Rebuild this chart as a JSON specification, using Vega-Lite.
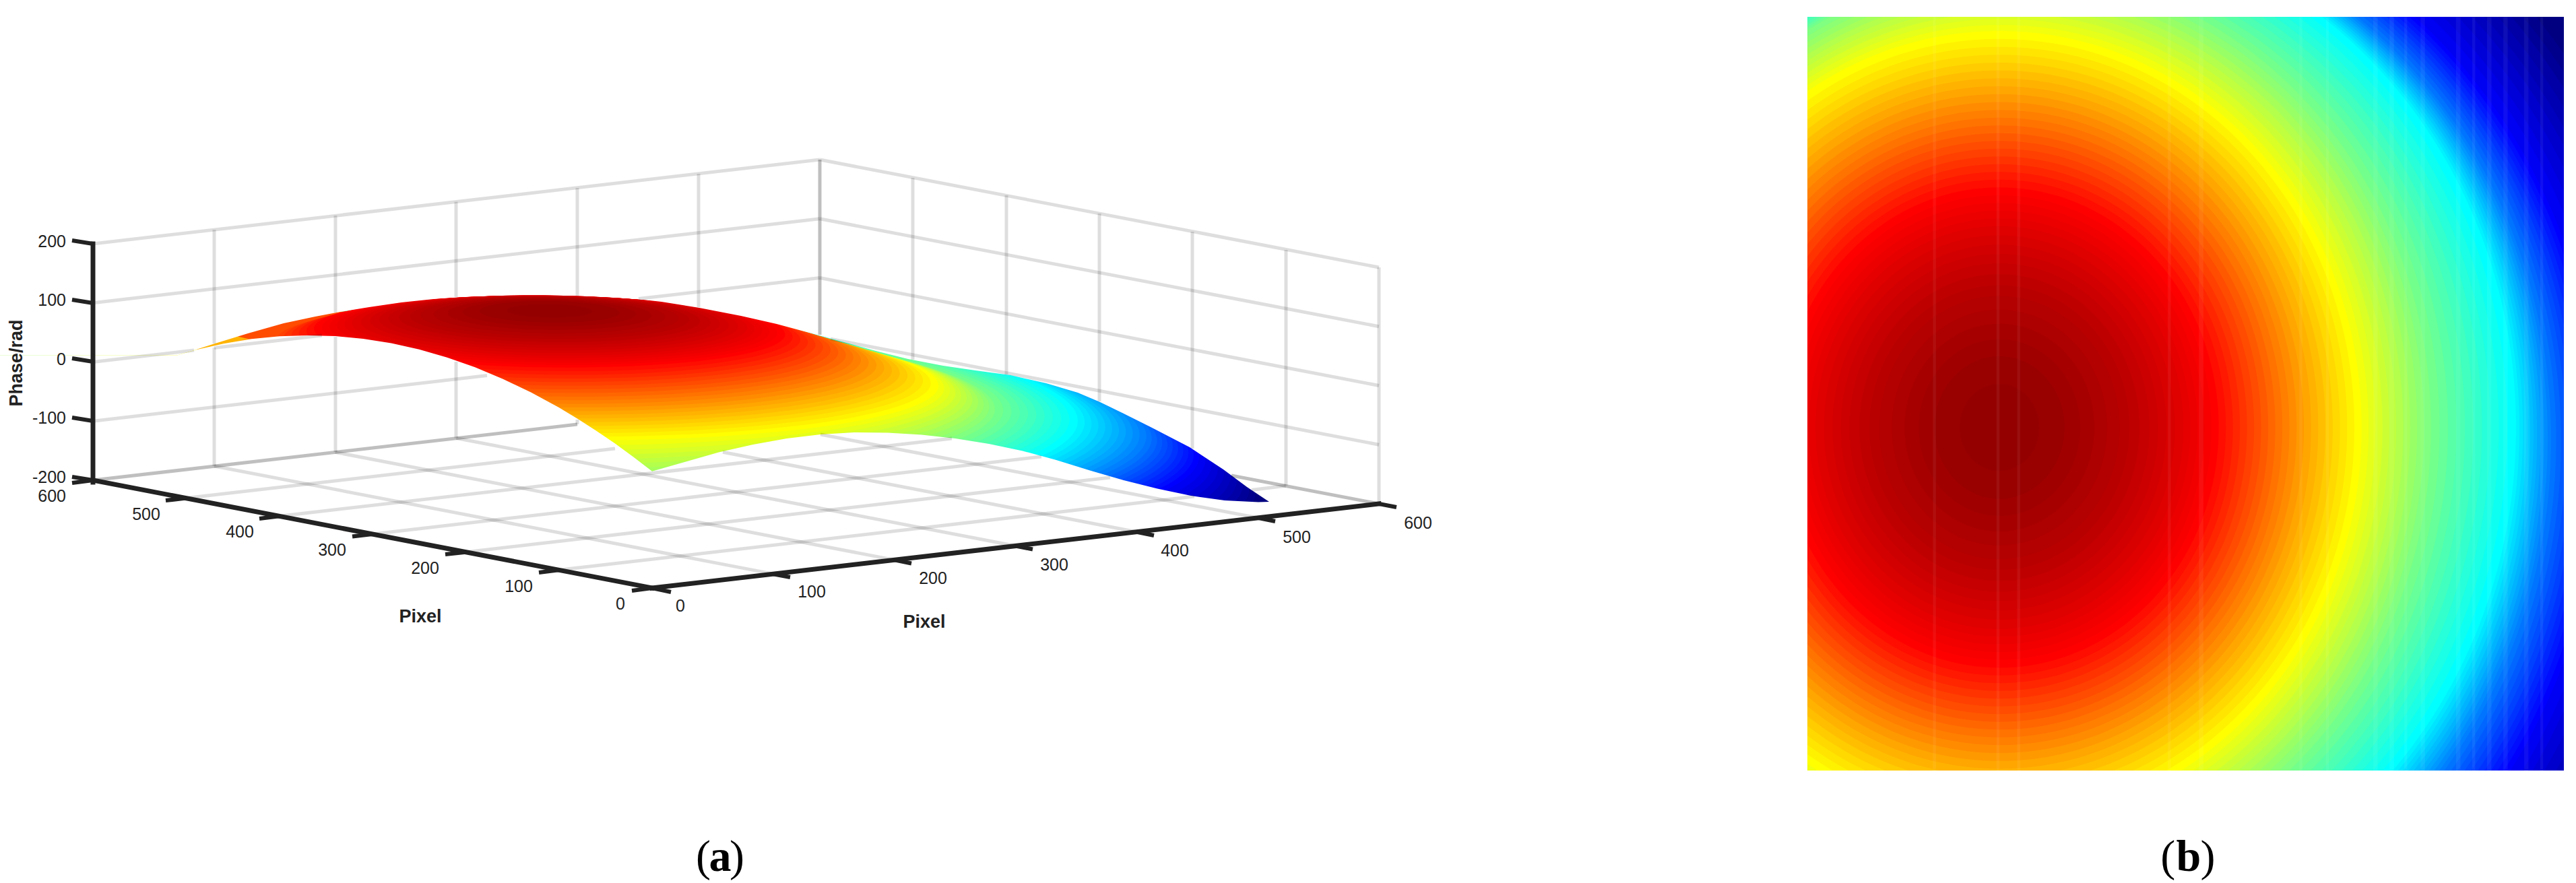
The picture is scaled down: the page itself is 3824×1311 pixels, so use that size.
{"$schema":"https://vega.github.io/schema/vega-lite/v6.json","background":"white","padding":{"top":25,"left":0,"right":0,"bottom":0},"autosize":{"type":"pad"},"spacing":283,"config":{"view":{"stroke":null}},
"datasets":{
"rings":[
{"radius":470,"sr":500,"phase":-175,"hx":187.5,"hy":295,"u":-202.8,"v":148.5},
{"radius":425,"sr":500,"phase":-170.8,"hx":187.5,"hy":295,"u":-232.1,"v":154.5},
{"radius":418,"sr":500,"phase":-166.6,"hx":187.5,"hy":295,"u":-241.4,"v":160.5},
{"radius":412,"sr":500,"phase":-162.4,"hx":187.5,"hy":295,"u":-250.7,"v":166.5},
{"radius":405,"sr":500,"phase":-158.3,"hx":187.5,"hy":295,"u":-260,"v":172.5},
{"radius":398,"sr":500,"phase":-154.1,"hx":187.5,"hy":295,"u":-269.3,"v":178.5},
{"radius":392,"sr":500,"phase":-149.9,"hx":187.5,"hy":295,"u":-278.6,"v":184.5},
{"radius":385,"sr":500,"phase":-145.7,"hx":187.5,"hy":295,"u":-287.9,"v":190.5},
{"radius":378,"sr":500,"phase":-141.5,"hx":187.5,"hy":295,"u":-297.2,"v":196.5},
{"radius":372,"sr":500,"phase":-137.3,"hx":187.5,"hy":295,"u":-306.5,"v":202.5},
{"radius":365,"sr":500,"phase":-133.1,"hx":187.5,"hy":295,"u":-315.8,"v":208.5},
{"radius":362.5,"sr":500,"phase":-128.9,"hx":186.5,"hy":294.2,"u":-323.6,"v":211.5},
{"radius":360,"sr":500,"phase":-124.8,"hx":185.6,"hy":293.4,"u":-331.4,"v":214.5},
{"radius":357.5,"sr":500,"phase":-120.6,"hx":184.6,"hy":292.6,"u":-339.2,"v":217.5},
{"radius":355,"sr":500,"phase":-116.4,"hx":183.7,"hy":291.8,"u":-347,"v":220.5},
{"radius":352.5,"sr":500,"phase":-112.2,"hx":182.7,"hy":291,"u":-354.8,"v":223.5},
{"radius":350,"sr":500,"phase":-108,"hx":181.7,"hy":290.2,"u":-362.6,"v":226.5},
{"radius":347.5,"sr":500,"phase":-103.8,"hx":180.8,"hy":289.4,"u":-370.4,"v":229.5},
{"radius":345,"sr":500,"phase":-99.6,"hx":179.8,"hy":288.6,"u":-378.2,"v":232.5},
{"radius":342.5,"sr":500,"phase":-95.4,"hx":178.9,"hy":287.8,"u":-386,"v":235.5},
{"radius":340,"sr":500,"phase":-91.3,"hx":177.9,"hy":287,"u":-393.8,"v":238.5},
{"radius":338.5,"sr":500,"phase":-87.1,"hx":177,"hy":286.2,"u":-404,"v":240.8},
{"radius":337,"sr":500,"phase":-82.9,"hx":176,"hy":285.4,"u":-414.2,"v":243.1},
{"radius":335.5,"sr":500,"phase":-78.7,"hx":175,"hy":284.6,"u":-424.4,"v":245.4},
{"radius":334,"sr":500,"phase":-74.5,"hx":174.1,"hy":283.8,"u":-434.6,"v":247.7},
{"radius":332.5,"sr":500,"phase":-70.3,"hx":173.1,"hy":283,"u":-444.8,"v":250},
{"radius":331,"sr":500,"phase":-66.1,"hx":172.2,"hy":282.2,"u":-455,"v":252.3},
{"radius":329.5,"sr":500,"phase":-61.9,"hx":171.2,"hy":281.4,"u":-465.2,"v":254.6},
{"radius":328,"sr":500,"phase":-57.8,"hx":170.2,"hy":280.6,"u":-475.4,"v":256.9},
{"radius":326.5,"sr":500,"phase":-53.6,"hx":169.3,"hy":279.8,"u":-485.6,"v":259.2},
{"radius":325,"sr":500,"phase":-49.4,"hx":168.4,"hy":279,"u":-495.8,"v":261.5},
{"radius":322,"sr":488,"phase":-45.2,"hx":165.5,"hy":279,"u":-481,"v":263},
{"radius":319,"sr":476,"phase":-41,"hx":162.6,"hy":279,"u":-466.2,"v":264.4},
{"radius":316,"sr":464,"phase":-36.8,"hx":159.7,"hy":279,"u":-451.5,"v":265.9},
{"radius":313,"sr":452,"phase":-32.6,"hx":156.9,"hy":279,"u":-436.7,"v":267.3},
{"radius":310,"sr":440,"phase":-28.4,"hx":154,"hy":279,"u":-421.9,"v":268.8},
{"radius":307,"sr":428,"phase":-24.2,"hx":151.1,"hy":279,"u":-407.2,"v":270.2},
{"radius":304,"sr":416,"phase":-20.1,"hx":148.2,"hy":279,"u":-392.4,"v":271.7},
{"radius":301,"sr":404,"phase":-15.9,"hx":145.4,"hy":279,"u":-377.6,"v":273.1},
{"radius":298,"sr":392,"phase":-11.7,"hx":142.5,"hy":279,"u":-362.8,"v":274.6},
{"radius":295,"sr":380,"phase":-7.5,"hx":139.6,"hy":279,"u":-348,"v":276},
{"radius":291.1,"sr":367.6,"phase":-3.3,"hx":138.6,"hy":279,"u":-328.4,"v":279.1},
{"radius":287.2,"sr":355.2,"phase":0.9,"hx":137.7,"hy":279,"u":-308.8,"v":282.2},
{"radius":283.3,"sr":342.8,"phase":5.1,"hx":136.7,"hy":279,"u":-289.2,"v":285.3},
{"radius":279.4,"sr":330.4,"phase":9.3,"hx":135.8,"hy":279,"u":-269.6,"v":288.4},
{"radius":275.5,"sr":318,"phase":13.4,"hx":134.8,"hy":279,"u":-250,"v":291.5},
{"radius":271.6,"sr":305.6,"phase":17.6,"hx":133.8,"hy":279,"u":-230.4,"v":294.6},
{"radius":267.7,"sr":293.2,"phase":21.8,"hx":132.9,"hy":279,"u":-210.8,"v":297.7},
{"radius":263.8,"sr":280.8,"phase":26,"hx":131.9,"hy":279,"u":-191.2,"v":300.8},
{"radius":259.9,"sr":268.4,"phase":30.2,"hx":131,"hy":279,"u":-171.6,"v":303.9},
{"radius":256,"sr":256,"phase":34.4,"hx":130,"hy":279,"u":-152.2,"v":307.2},
{"radius":0,"sr":40,"phase":34.4,"hx":130,"hy":279,"u":-650,"v":352},
{"radius":250.9,"sr":250.9,"phase":38.6,"hx":130,"hy":279,"u":-152.2,"v":310.8},
{"radius":245.8,"sr":245.8,"phase":42.8,"hx":130,"hy":279,"u":-152.2,"v":314.5},
{"radius":240.7,"sr":240.7,"phase":46.9,"hx":130,"hy":279,"u":-152.2,"v":318.2},
{"radius":235.6,"sr":235.6,"phase":51.1,"hx":130,"hy":279,"u":-152.2,"v":321.8},
{"radius":230.5,"sr":230.5,"phase":55.3,"hx":130,"hy":279,"u":-152.2,"v":325.5},
{"radius":225.4,"sr":225.4,"phase":59.5,"hx":130,"hy":279,"u":-152.2,"v":329.2},
{"radius":0,"sr":70,"phase":59.5,"hx":130,"hy":279,"u":-520,"v":356},
{"radius":220.3,"sr":220.3,"phase":63.7,"hx":130,"hy":279,"u":-152.2,"v":332.9},
{"radius":215.2,"sr":215.2,"phase":67.9,"hx":130,"hy":279,"u":-152.2,"v":336.5},
{"radius":210.1,"sr":210.1,"phase":72.1,"hx":130,"hy":279,"u":-152.2,"v":340.2},
{"radius":205,"sr":205,"phase":76.3,"hx":130,"hy":279,"u":-152.2,"v":343.9},
{"radius":200,"sr":200,"phase":80.4,"hx":130,"hy":279,"u":-152.2,"v":347.6},
{"radius":195,"sr":195,"phase":84.6,"hx":130,"hy":279,"u":-152.2,"v":351.2},
{"radius":190,"sr":190,"phase":88.8,"hx":130,"hy":279,"u":-152.2,"v":354.9},
{"radius":185,"sr":185,"phase":93,"hx":130,"hy":279,"u":-152.2,"v":358.6},
{"radius":0,"sr":75,"phase":93,"hx":130,"hy":279,"u":-470,"v":385},
{"radius":180,"sr":180,"phase":97.2,"hx":130,"hy":279,"u":-152.2,"v":362.3},
{"radius":175,"sr":175,"phase":101.4,"hx":130,"hy":279,"u":-152.2,"v":365.9},
{"radius":170,"sr":170,"phase":105.6,"hx":130,"hy":279,"u":-152.2,"v":369.6},
{"radius":165,"sr":165,"phase":109.8,"hx":130,"hy":279,"u":-152.2,"v":373.3},
{"radius":160,"sr":160,"phase":113.9,"hx":130,"hy":279,"u":-152.2,"v":377},
{"radius":155,"sr":155,"phase":118.1,"hx":130,"hy":279,"u":-152.2,"v":380.7},
{"radius":150,"sr":150,"phase":120.2,"hx":130,"hy":279,"u":-152.2,"v":382.5},
{"radius":145,"sr":145,"phase":122.3,"hx":130,"hy":279,"u":-152.2,"v":384.3},
{"radius":140,"sr":140,"phase":124.4,"hx":130,"hy":279,"u":-152.2,"v":386.2},
{"radius":135,"sr":135,"phase":126.5,"hx":130,"hy":279,"u":-152.2,"v":388},
{"radius":130,"sr":130,"phase":128.6,"hx":130,"hy":279,"u":-152.2,"v":389.8},
{"radius":124,"sr":124,"phase":130.7,"hx":130,"hy":279,"u":-152.2,"v":391.7},
{"radius":118,"sr":118,"phase":132.8,"hx":130,"hy":279,"u":-152.2,"v":393.5},
{"radius":112,"sr":112,"phase":134.9,"hx":130,"hy":279,"u":-152.2,"v":395.4},
{"radius":106,"sr":106,"phase":137,"hx":130,"hy":279,"u":-152.2,"v":397.2},
{"radius":99,"sr":99,"phase":139.1,"hx":130,"hy":279,"u":-152.2,"v":399},
{"radius":92,"sr":92,"phase":141.2,"hx":130,"hy":279,"u":-152.2,"v":400.9},
{"radius":85,"sr":85,"phase":143.3,"hx":130,"hy":279,"u":-152.2,"v":402.7},
{"radius":76,"sr":76,"phase":145.3,"hx":130,"hy":279,"u":-152.2,"v":404.5},
{"radius":67,"sr":67,"phase":147.4,"hx":130,"hy":279,"u":-152.2,"v":406.4},
{"radius":57,"sr":57,"phase":149.5,"hx":130,"hy":279,"u":-152.2,"v":408.2},
{"radius":46,"sr":46,"phase":151.6,"hx":130,"hy":279,"u":-152.2,"v":410.1},
{"radius":28,"sr":28,"phase":153.3,"hx":130,"hy":279,"u":-152.2,"v":411.5}
],
"upper":[{"u":-968,"v":345.6},{"u":-705,"v":345.6},{"u":-680,"v":353},{"u":-652,"v":362},{"u":-600,"v":378},{"u":-547,"v":393},{"u":-500,"v":403},{"u":-463,"v":410},{"u":-420,"v":417},{"u":-372,"v":424},{"u":-320,"v":429.5},{"u":-267,"v":433.5},{"u":-220,"v":435.5},{"u":-175,"v":436},{"u":-130,"v":435.5},{"u":-91,"v":434},{"u":-40,"v":431},{"u":14,"v":425},{"u":70,"v":416},{"u":132,"v":404},{"u":185,"v":392},{"u":237,"v":378},{"u":285,"v":365},{"u":332,"v":352},{"u":380,"v":340},{"u":432,"v":330},{"u":480,"v":323},{"u":532,"v":316},{"u":585,"v":304},{"u":632,"v":290},{"u":665,"v":276},{"u":700,"v":259},{"u":742,"v":238},{"u":798,"v":209},{"u":848,"v":176},{"u":883,"v":150},{"u":916,"v":128},{"u":1432,"v":128}],
"lower":[{"u":-968,"v":345.6},{"u":-705,"v":345.6},{"u":-677.7,"v":353.4},{"u":-636.2,"v":362.8},{"u":-594.7,"v":369.7},{"u":-553.2,"v":373.7},{"u":-511.7,"v":375.1},{"u":-470.2,"v":373.9},{"u":-428.7,"v":370},{"u":-387.2,"v":363.4},{"u":-345.8,"v":354.2},{"u":-304.3,"v":342.2},{"u":-262.8,"v":327.7},{"u":-221.3,"v":310.3},{"u":-179.8,"v":290.5},{"u":-138.3,"v":267.9},{"u":-110.6,"v":251.3},{"u":-83,"v":233.6},{"u":-55.3,"v":214.7},{"u":-27.7,"v":194.5},{"u":0,"v":173.3},{"u":50,"v":187.5},{"u":99,"v":201.5},{"u":150,"v":213},{"u":200,"v":222},{"u":250,"v":228},{"u":300,"v":231},{"u":350,"v":230.5},{"u":400,"v":227.5},{"u":450,"v":222},{"u":500,"v":214},{"u":550,"v":203.5},{"u":600,"v":190},{"u":650,"v":174.5},{"u":700,"v":160},{"u":750,"v":147.5},{"u":800,"v":137},{"u":850,"v":130},{"u":900,"v":127.5},{"u":916,"v":128},{"u":1432,"v":128}],
"grid":[
{"u":-650,"v":181,"u2":-650,"v2":357},{"u":-650,"v":363,"u2":-650,"v2":532},
{"u":-470,"v":202,"u2":-470,"v2":373},{"u":-470,"v":409,"u2":-470,"v2":553},
{"u":-291,"v":222.5,"u2":-291,"v2":336},{"u":-291,"v":432,"u2":-291,"v2":573.5},
{"u":-111,"v":243,"u2":-111,"v2":250},{"u":-111,"v":434,"u2":-111,"v2":594},
{"u":69,"v":417,"u2":69,"v2":615},
{"u":941,"v":151.7,"u2":941,"v2":502},{"u":802,"v":207,"u2":802,"v2":529},{"u":664,"v":277,"u2":664,"v2":556},{"u":526,"v":317,"u2":526,"v2":583},{"u":387,"v":339,"u2":387,"v2":609},
{"u":-830,"v":247.75,"u2":-245,"v2":315.5},{"u":265,"v":369.7,"u2":1079,"v2":212.75},
{"u":-830,"v":335.5,"u2":-680,"v2":353},{"u":-650,"v":356.5,"u2":-490,"v2":375},{"u":-20,"v":429.5,"u2":249,"v2":460.5},{"u":249,"v":460.5,"u2":1079,"v2":300.5},
{"u":-830,"v":423.25,"u2":249,"v2":548.25},{"u":249,"v":548.25,"u2":1079,"v2":388.25},
{"u":-830,"v":511,"u2":249,"v2":636},{"u":249,"v":636,"u2":1079,"v2":476},
{"u":1079,"v":125,"u2":1079,"v2":476},
{"u":179.8,"v":20.83,"u2":-650,"v2":181},{"u":359.6,"v":41.66,"u2":-470.4,"v2":201.66},{"u":539.4,"v":62.5,"u2":-290.6,"v2":222.5},{"u":719.2,"v":83.3,"u2":105,"v2":201.8},{"u":899,"v":104.2,"u2":250,"v2":228},
{"u":-138.3,"v":26.67,"u2":805,"v2":136},{"u":890,"v":145.5,"u2":940.7,"v2":151.67},{"u":-276.6,"v":53.34,"u2":680,"v2":164},{"u":-415,"v":80,"u2":578,"v2":195},{"u":-553,"v":106.7,"u2":445,"v2":222},{"u":-691.5,"v":133.4,"u2":-55,"v2":207}
],
"edges":[{"u":-830,"v":160,"u2":-111,"v2":243},{"u":1079,"v":125,"u2":860,"v2":167},{"u":249,"v":376,"u2":249,"v2":636}],
"axes":[{"u":-830,"v":157,"u2":-830,"v2":511},{"u":-830,"v":160,"u2":0,"v2":0},{"u":0,"v":0,"u2":1079,"v2":125}],
"ticks":[
{"u":-830,"v":511,"u2":-861,"v2":516},{"u":-830,"v":423,"u2":-861,"v2":428},{"u":-830,"v":336,"u2":-861,"v2":341},{"u":-830,"v":248,"u2":-861,"v2":253},{"u":-830,"v":160,"u2":-861,"v2":165},
{"u":-830,"v":160,"u2":-861,"v2":156},{"u":-691.5,"v":133.4,"u2":-722,"v2":130},{"u":-553,"v":106.7,"u2":-583,"v2":103},{"u":-415,"v":80,"u2":-445,"v2":76.5},{"u":-276.6,"v":53.3,"u2":-307,"v2":50},{"u":-138.3,"v":26.7,"u2":-168,"v2":23},{"u":0,"v":0,"u2":-30,"v2":-4},
{"u":0,"v":0,"u2":28,"v2":-6},{"u":179.8,"v":20.8,"u2":205,"v2":16},{"u":359.6,"v":41.7,"u2":385,"v2":36.5},{"u":539.4,"v":62.5,"u2":565,"v2":57.5},{"u":719.2,"v":83.3,"u2":745,"v2":78},{"u":899,"v":104.2,"u2":925,"v2":99},{"u":1079,"v":125,"u2":1105,"v2":120}
],
"labelsEnd":[{"u":-870,"v":514,"t":"200"},{"u":-870,"v":427,"t":"100"},{"u":-870,"v":339,"t":"0"},{"u":-870,"v":252,"t":"-100"},{"u":-870,"v":164,"t":"-200"},{"u":-870,"v":136,"t":"600"}],
"labelsMid":[{"u":-751,"v":109,"t":"500"},{"u":-612,"v":83,"t":"400"},{"u":-475,"v":56,"t":"300"},{"u":-337,"v":29,"t":"200"},{"u":-198,"v":2,"t":"100"},{"u":-47,"v":-24,"t":"0"},{"u":42,"v":-27,"t":"0"},{"u":237,"v":-6,"t":"100"},{"u":417,"v":14,"t":"200"},{"u":597,"v":34,"t":"300"},{"u":776,"v":55,"t":"400"},{"u":957,"v":75,"t":"500"},{"u":1137,"v":96,"t":"600"}],
"axisTitles":[{"u":-344,"v":-43,"t":"Pixel"},{"u":404,"v":-51,"t":"Pixel"}],
"zTitle":[{"u":-943,"v":334,"t":"Phase/rad"}],
"captionA":[{"u":101,"v":-400,"t":"a"}],
"captionAParens":[{"u":76,"v":-400,"t":"("},{"u":126,"v":-400,"t":")"}],
"stripes":[{"x":85,"x2":87},{"x":128,"x2":130},{"x":142,"x2":144},{"x":244,"x2":246},{"x":265,"x2":268},{"x":333,"x2":335},{"x":351,"x2":353},{"x":383,"x2":386},{"x":394,"x2":397},{"x":404,"x2":406},{"x":415,"x2":418},{"x":439,"x2":442},{"x":450,"x2":452},{"x":460,"x2":463},{"x":471,"x2":474},{"x":485,"x2":488},{"x":496,"x2":498}],
"captionB":[{"x":258,"y":571,"t":"b"}],
"captionBParens":[{"x":244,"y":571,"t":"("},{"x":271,"y":571,"t":")"}]
},
"hconcat":[
{"width":2400,"height":1286,
"layer":[
{"data":{"name":"rings"},"mark":{"type":"point","filled":true,"opacity":1,"clip":true,"shape":"M1.726,-0.2C0.924,-0.3546,-0.499,-0.3905,-1.452,-0.28C-2.405,-0.1695,-2.528,0.0454,-1.726,0.2C-0.924,0.3546,0.499,0.3905,1.452,0.28C2.405,0.1695,2.528,-0.0454,1.726,-0.2Z"},
"encoding":{"x":{"field":"u","type":"quantitative","axis":null,"scale":{"domain":[-968,1432],"nice":false,"zero":false}},"y":{"field":"v","type":"quantitative","axis":null,"scale":{"domain":[-438,848],"nice":false,"zero":false}},
"size":{"field":"sr","type":"quantitative","legend":null,"scale":{"type":"pow","exponent":2,"domain":[0,500],"range":[0,1000000]}},
"color":{"field":"phase","type":"quantitative","legend":null,"scale":{"domain":[-175,-133.1,-49.4,34.4,118.1,160],"range":["#000080","#0000ff","#00ffff","#ffff00","#ff0000","#800000"],"interpolate":"rgb"}}}},
{"data":{"name":"upper"},"mark":{"type":"area","color":"white","opacity":1,"clip":true},"encoding":{"x":{"field":"u","type":"quantitative"},"y":{"field":"v","type":"quantitative","stack":null},"y2":{"datum":848}}},
{"data":{"name":"lower"},"mark":{"type":"area","color":"white","opacity":1,"clip":true},"encoding":{"x":{"field":"u","type":"quantitative"},"y":{"field":"v","type":"quantitative","stack":null},"y2":{"datum":-438}}},
{"data":{"name":"grid"},"mark":{"type":"rule","color":"#000000","opacity":0.13,"strokeWidth":5},"encoding":{"x":{"field":"u","type":"quantitative"},"y":{"field":"v","type":"quantitative"},"x2":{"field":"u2"},"y2":{"field":"v2"}}},
{"data":{"name":"edges"},"mark":{"type":"rule","color":"#000000","opacity":0.25,"strokeWidth":5},"encoding":{"x":{"field":"u","type":"quantitative"},"y":{"field":"v","type":"quantitative"},"x2":{"field":"u2"},"y2":{"field":"v2"}}},
{"data":{"name":"axes"},"mark":{"type":"rule","color":"#222222","strokeWidth":7,"strokeCap":"square"},"encoding":{"x":{"field":"u","type":"quantitative"},"y":{"field":"v","type":"quantitative"},"x2":{"field":"u2"},"y2":{"field":"v2"}}},
{"data":{"name":"ticks"},"mark":{"type":"rule","color":"#222222","strokeWidth":6},"encoding":{"x":{"field":"u","type":"quantitative"},"y":{"field":"v","type":"quantitative"},"x2":{"field":"u2"},"y2":{"field":"v2"}}},
{"data":{"name":"labelsEnd"},"mark":{"type":"text","align":"right","baseline":"middle","font":"Liberation Sans","fontSize":25,"color":"#222222"},"encoding":{"x":{"field":"u","type":"quantitative"},"y":{"field":"v","type":"quantitative"},"text":{"field":"t"}}},
{"data":{"name":"labelsMid"},"mark":{"type":"text","align":"center","baseline":"middle","font":"Liberation Sans","fontSize":25,"color":"#222222"},"encoding":{"x":{"field":"u","type":"quantitative"},"y":{"field":"v","type":"quantitative"},"text":{"field":"t"}}},
{"data":{"name":"axisTitles"},"mark":{"type":"text","align":"center","baseline":"middle","font":"Liberation Sans","fontSize":27,"fontWeight":"bold","color":"#222222"},"encoding":{"x":{"field":"u","type":"quantitative"},"y":{"field":"v","type":"quantitative"},"text":{"field":"t"}}},
{"data":{"name":"zTitle"},"mark":{"type":"text","align":"center","baseline":"middle","angle":270,"font":"Liberation Sans","fontSize":27,"fontWeight":"bold","color":"#222222"},"encoding":{"x":{"field":"u","type":"quantitative"},"y":{"field":"v","type":"quantitative"},"text":{"field":"t"}}},
{"data":{"name":"captionA"},"mark":{"type":"text","align":"center","font":"Liberation Serif","fontSize":66,"fontWeight":"bold","color":"#000000"},"encoding":{"x":{"field":"u","type":"quantitative"},"y":{"field":"v","type":"quantitative"},"text":{"field":"t"}}},
{"data":{"name":"captionAParens"},"mark":{"type":"text","align":"center","font":"Liberation Serif","fontSize":66,"color":"#000000"},"encoding":{"x":{"field":"u","type":"quantitative"},"y":{"field":"v","type":"quantitative"},"text":{"field":"t"}}}
]},
{"width":1123,"height":1119,
"layer":[
{"data":{"name":"rings"},"mark":{"type":"point","filled":true,"opacity":1,"clip":true,"shape":"M2.1,0C2.1,1.27,1.16,2.3,0,2.3C-1.16,2.3,-2.1,1.27,-2.1,0C-2.1,-1.27,-1.16,-2.3,0,-2.3C1.16,-2.3,2.1,-1.27,2.1,0Z"},
"encoding":{"x":{"field":"hx","type":"quantitative","axis":null,"scale":{"domain":[0,512],"nice":false,"zero":false}},"y":{"field":"hy","type":"quantitative","axis":null,"scale":{"domain":[512,0],"nice":false,"zero":false}},
"size":{"field":"radius","type":"quantitative","legend":null,"scale":{"type":"pow","exponent":2,"domain":[0,500],"range":[0,1000000]}},
"color":{"field":"phase","type":"quantitative","legend":null,"scale":{"domain":[-175,-133.1,-49.4,34.4,118.1,160],"range":["#000080","#0000ff","#00ffff","#ffff00","#ff0000","#800000"],"interpolate":"rgb"}}}},
{"data":{"name":"stripes"},"mark":{"type":"rect","color":"white","opacity":0.06},"encoding":{"x":{"field":"x","type":"quantitative"},"x2":{"field":"x2"}}},
{"data":{"name":"captionB"},"mark":{"type":"text","align":"center","font":"Liberation Serif","fontSize":66,"fontWeight":"bold","color":"#000000"},"encoding":{"x":{"field":"x","type":"quantitative"},"y":{"field":"y","type":"quantitative"},"text":{"field":"t"}}},
{"data":{"name":"captionBParens"},"mark":{"type":"text","align":"center","font":"Liberation Serif","fontSize":66,"color":"#000000"},"encoding":{"x":{"field":"x","type":"quantitative"},"y":{"field":"y","type":"quantitative"},"text":{"field":"t"}}}
]}
]}
